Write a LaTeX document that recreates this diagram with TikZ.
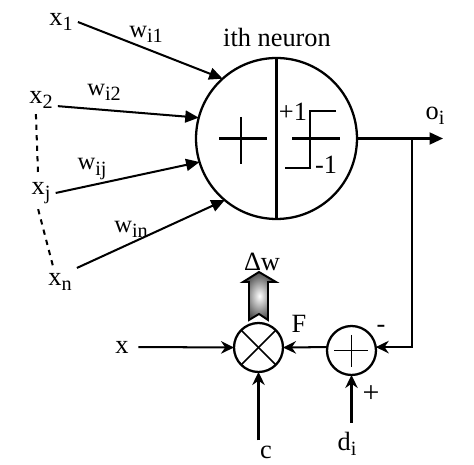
\documentclass[tikz,border=0pt]{standalone}
\usepackage{fontspec}
\setmainfont{Liberation Serif}
\usetikzlibrary{arrows.meta}
\newcommand{\lsub}[2]{#1\raisebox{-0.45ex}{\fontsize{11.5}{12}\selectfont #2}}
\tikzset{
  lab/.style={font=\fontsize{15}{18}\selectfont,inner sep=1.5pt,outer sep=1.5pt},
  wlab/.style={font=\fontsize{14}{17}\selectfont,inner sep=0pt},
  ring/.style={draw,circle,line width=1.3pt,inner sep=0pt,outer sep=0pt},
  wire/.style={line width=1.15pt},
  thinwire/.style={line width=0.9pt},
  intip/.style={wire,-{Triangle[length=2.7mm,width=2.4mm]}},
  fbtip/.style={wire,-{Stealth[length=2.6mm,width=2.5mm]}},
}
\begin{document}
\begin{tikzpicture}[x=0.02cm,y=-0.02cm]
  \useasboundingbox (0,0) rectangle (474,465);
  \node[ring,minimum size=3.22cm] (neuron) at (276.5,138.5) {};
  \node[ring,minimum size=0.98cm] (mult) at (258.5,347.5) {};
  \node[ring,minimum size=0.98cm] (sum) at (351.5,350.5) {};
  \node[lab] (title) at (277,37) {ith neuron};
  \node[lab] (x1) at (61,22) {\lsub{x}{1}};
  \node[lab] (x2) at (41,100) {\lsub{x}{2}};
  \node[lab] (xj) at (41,193) {\lsub{x}{j}};
  \node[lab] (xn) at (60,282) {\lsub{x}{n}};
  \node[wlab] (wi1) at (146,34) {\lsub{w}{i1}};
  \node[wlab] (wi2) at (104,92) {\lsub{w}{i2}};
  \node[wlab] (wij) at (92,169) {\lsub{w}{ij}};
  \node[wlab] (win) at (131,229) {\lsub{w}{in}};
  \node[lab] (oi) at (435,116) {\lsub{o}{i}};
  \node[lab] (plusone) at (293,112) {+1};
  \node[lab] (minusone) at (326,165) {-1};
  \node[lab] (xin) at (122,347) {x};
  \node[lab] (cin) at (266,452) {c};
  \node[lab] (di) at (347,444) {\lsub{d}{i}};
  \node[lab] (dw) at (262,262) {Δw};
  \node[lab] (ff) at (299,324) {F};
  \node[lab] (minus) at (381,329) {-};
  \node[lab,font=\fontsize{17}{18}\selectfont] (plus) at (371,394) {+};
  \coordinate (oend) at (443,138.5);
  \coordinate (branch) at (412,138.5);
  % inputs
  \draw[intip] (x1.east) -- (neuron.132);
  \draw[intip] (x2.-20) -- (neuron.165);
  \draw[intip] (xj.east) -- (neuron.197);
  \draw[intip] (xn.north east) -- (neuron.230);
  \draw[wire,dashed] (x2.-110) -- (xj.100);
  \draw[wire,dashed] (xj.-100) -- (xn.115);
  % neuron
  \draw[wire] (neuron.north) -- (neuron.south);
  \draw[wire] (219,138.5) -- (267,138.5);
  \draw[wire] (241,117) -- (241,164);
  \draw[wire] (292,138.5) -- (340,138.5);
  \draw[wire] (336,111) -- (310,111) -- (310,168) -- (285,168);
  % output and feedback
  \draw[intip] (neuron.east) -- (oend);
  \draw[fbtip] (branch) |- (sum.8);
  \draw[fbtip] (sum.172) -- (mult.east);
  \draw[fbtip,shorten <=0.09cm] (xin.east) -- (mult.west);
  \draw[fbtip] (mult.south |- cin.north) -- (mult.south);
  \draw[fbtip,shorten <=0.08cm] (sum.south |- di.north) -- (sum.south);
  \draw[thinwire] (mult.45) -- (mult.225);
  \draw[thinwire] (mult.135) -- (mult.-45);
  \draw[thinwire] (334,350.5) -- (368,350.5);
  \draw[thinwire] (351.5,335) -- (351.5,367);
  % update arrow
  \draw[line width=1.1pt,inner color=white,outer color=gray!60!black]
    (259,272) -- (276,282) -- (268,282) -- (268,320) -- (259,314) -- (249,320)
    -- (249,282) -- (243,282) -- cycle;
\end{tikzpicture}
\end{document}
